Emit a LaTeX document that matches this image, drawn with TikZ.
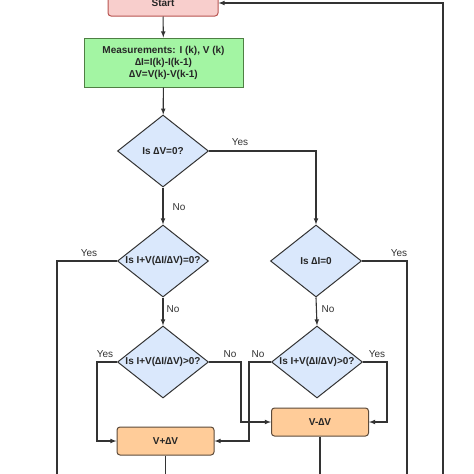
\documentclass[tikz,border=0pt]{standalone}
\usepackage{fontspec}
\setmainfont{Liberation Sans}
\usepackage{tikz}
\usetikzlibrary{arrows}
\usetikzlibrary{shapes.geometric}
\usetikzlibrary{positioning}
\usetikzlibrary{calc}
\definecolor{linegray}{HTML}{333333}
\definecolor{startfill}{HTML}{F8CECC}
\definecolor{startdraw}{HTML}{B85450}
\definecolor{measfill}{HTML}{A3F5A3}
\definecolor{measdraw}{HTML}{4F7F43}
\definecolor{askfill}{HTML}{DAE8FC}
\definecolor{stepfill}{HTML}{FFCC99}
\definecolor{stepdraw}{HTML}{5C4A3A}
\tikzstyle{terminal}=[rectangle, rounded corners=3pt, draw=startdraw, fill=startfill, line width=1pt, font=\bfseries, minimum width=110pt, minimum height=26pt]
\tikzstyle{measure}=[rectangle, draw=measdraw, fill=measfill, line width=1pt, font=\bfseries, align=center, minimum width=159pt, minimum height=49pt, inner sep=0pt]
\tikzstyle{ask}=[diamond, aspect=1.26, draw=linegray, fill=askfill, line width=1pt, font=\bfseries, inner sep=0pt, minimum width=91pt, minimum height=72pt]
\tikzstyle{update}=[rectangle, rounded corners=3pt, draw=stepdraw, fill=stepfill, line width=1pt, font=\bfseries, minimum width=97pt, minimum height=28pt]
\tikzstyle{answer}=[font=\fontsize{10}{12}\selectfont, inner sep=0pt, text=linegray]

\begin{document}
\begin{tikzpicture}[x=1pt, y=-1pt, >=latex, font=\fontsize{10}{12}\selectfont, text=black!85]
	\useasboundingbox (0,0) rectangle (474,474);
	% blocks
	\node (Start) at (163,3) [terminal] {Start};
	\node (Meas) at (163.5,62.5) [measure] {Measurements: I (k), V (k)\\ ∆I=I(k)-I(k-1)\\ ∆V=V(k)-V(k-1)};
	\node (AskV) at (163,151) [ask] {Is ∆V=0?};
	\node (AskZero) at (163,261) [ask] {Is I+V(∆I/∆V)=0?};
	\node (AskI) at (316,261) [ask] {Is ∆I=0};
	\node (AskPosL) at (163,362) [ask] {Is I+V(∆I/∆V)>0?};
	\node (AskPosR) at (317,362) [ask] {Is I+V(∆I/∆V)>0?};
	\node (Up) at (165.5,441) [update] {V+∆V};
	\node (Down) at (320,422) [update] {V-∆V};
	% free ends at the bottom
	\coordinate (OutZero) at (57,474);
	\coordinate (OutI) at (407,474);
	\coordinate (OutUp) at (165.5,474);
	\coordinate (OutDown) at (320,474);
	\coordinate (Back) at (443,474);
	% connectors
	\begin{scope}[draw=linegray, line width=1.1pt]
		\draw[->] (Start) -- (Meas);
		\draw[->] (Meas) -- (AskV);
		\draw[->] (AskV.east) -| (AskI.north);
		\draw[->] (AskV.south) -- (AskZero.north);
		\draw (AskZero.west) -| (OutZero);
		\draw[->] (AskZero.south) -- (AskPosL.north);
		\draw (AskI.east) -| (OutI);
		\draw[->] (AskI.south) -- (AskPosR.north);
		\draw[->] (AskPosL.west) -- ++(-20,0) |- (Up.west);
		\draw[->] (AskPosL.east) -- ++(32,0) |- (Down.west);
		\draw[->] (AskPosR.west) -- ++(-22,0) |- (Up.east);
		\draw[->] (AskPosR.east) -- ++(24,0) |- (Down.east);
		\draw (Up.south) -- (OutUp);
		\draw (Down.south) -- (OutDown);
		\draw[->] (Back) |- (Start.east);
	\end{scope}
	% answers
	\node[answer] (YesV) at (240,142) {Yes};
	\node[answer] (NoV) at (179,207) {No};
	\node[answer] (YesZero) at (89,253) {Yes};
	\node[answer] (NoZero) at (173,309) {No};
	\node[answer] (YesI) at (399,253) {Yes};
	\node[answer] (NoI) at (328,309) {No};
	\node[answer] (YesPosL) at (105,354) {Yes};
	\node[answer] (NoPosL) at (230,354) {No};
	\node[answer] (NoPosR) at (258,354) {No};
	\node[answer] (YesPosR) at (377,354) {Yes};
\end{tikzpicture}
\end{document}
